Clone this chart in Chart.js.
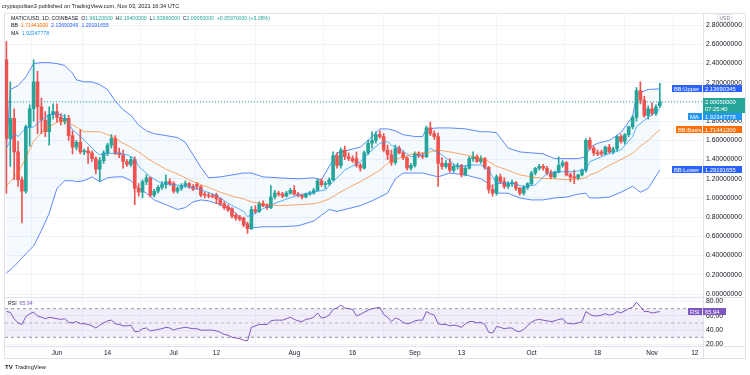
<!DOCTYPE html>
<html>
<head>
<meta charset="utf-8">
<title>MATIC/USD 1D</title>
<script src="https://cdn.jsdelivr.net/npm/chart.js@4.4.1/dist/chart.umd.min.js"></script>
<style>
  html, body { margin: 0; padding: 0; background: #ffffff; }
  #chartBox { position: relative; width: 750px; height: 375px; }
</style>
</head>
<body>
<div id="chartBox"><canvas id="maticChart" width="750" height="375"></canvas></div>
<script>
// ===== DATA (day 0 = May 19, 2021) =====
const opens = [2.44,1.62,1.83,1.48,1.19,1.07,1.74,1.93,2.21,1.95,
  1.81,1.69,1.87,1.90,1.84,1.80,1.83,1.65,1.53,1.58,
  1.48,1.49,1.47,1.41,1.30,1.39,1.47,1.55,1.62,1.47,
  1.45,1.38,1.35,1.40,1.10,1.06,1.17,1.21,1.03,1.07,
  1.11,1.14,1.17,1.15,1.07,1.10,1.13,1.15,1.12,1.14,
  1.12,1.04,1.03,1.025,1.03,0.99,0.94,0.91,0.89,0.82,
  0.80,0.79,0.73,0.68,0.88,0.86,0.94,0.92,0.90,1.01,
  1.05,1.04,1.02,1.05,1.08,1.04,1.03,1.01,1.04,1.05,
  1.08,1.18,1.14,1.15,1.19,1.44,1.34,1.50,1.43,1.41,
  1.41,1.34,1.31,1.47,1.57,1.60,1.66,1.64,1.50,1.45,
  1.37,1.52,1.47,1.42,1.31,1.34,1.46,1.44,1.43,1.73,
  1.67,1.64,1.36,1.33,1.36,1.29,1.33,1.34,1.24,1.31,
  1.41,1.43,1.38,1.41,1.32,1.09,1.05,1.22,1.17,1.12,
  1.15,1.16,1.10,1.05,1.11,1.15,1.26,1.31,1.33,1.31,
  1.26,1.22,1.27,1.34,1.37,1.24,1.22,1.21,1.24,1.29,
  1.60,1.52,1.47,1.48,1.46,1.53,1.48,1.51,1.64,1.59,
  1.66,1.74,1.84,2.12,2.02,1.86,1.93,1.88,1.9612];
const highs = [2.63,2.21,1.93,1.59,1.22,1.76,1.97,2.44,2.32,2.04,
  1.90,1.95,1.98,1.98,1.88,1.87,1.86,1.70,1.60,1.71,
  1.51,1.53,1.49,1.43,1.42,1.49,1.57,1.66,1.65,1.52,
  1.50,1.40,1.43,1.43,1.15,1.19,1.24,1.22,1.09,1.13,
  1.17,1.24,1.20,1.17,1.12,1.15,1.18,1.16,1.14,1.16,
  1.13,1.06,1.05,1.04,1.05,1.00,0.96,0.93,0.90,0.84,
  0.82,0.80,0.75,0.91,0.92,0.96,0.97,0.94,1.13,1.08,
  1.07,1.06,1.07,1.10,1.13,1.06,1.04,1.05,1.07,1.10,
  1.20,1.20,1.17,1.21,1.48,1.47,1.52,1.54,1.47,1.44,
  1.48,1.36,1.49,1.60,1.69,1.69,1.70,1.67,1.55,1.50,
  1.55,1.54,1.49,1.43,1.36,1.48,1.48,1.47,1.75,1.79,
  1.70,1.68,1.42,1.39,1.41,1.35,1.36,1.35,1.33,1.43,
  1.48,1.45,1.44,1.42,1.33,1.14,1.24,1.25,1.21,1.17,
  1.19,1.17,1.11,1.13,1.16,1.28,1.32,1.35,1.35,1.33,
  1.29,1.28,1.43,1.39,1.38,1.26,1.29,1.25,1.30,1.62,
  1.63,1.54,1.50,1.50,1.54,1.56,1.53,1.65,1.66,1.67,
  1.75,1.86,2.15,2.21,2.06,1.96,1.99,1.97,2.194];
const lows = [1.05,1.33,1.19,1.12,0.74,1.05,1.54,1.80,1.67,1.67,
  1.64,1.55,1.82,1.79,1.76,1.77,1.60,1.46,1.50,1.46,
  1.45,1.36,1.38,1.25,1.17,1.36,1.44,1.52,1.45,1.42,
  1.31,1.33,1.33,0.93,1.02,1.00,1.14,1.01,1.01,1.05,
  1.09,1.10,1.13,1.05,1.05,1.08,1.11,1.10,1.08,1.09,
  1.01,1.00,1.00,1.00,0.94,0.92,0.88,0.86,0.79,0.77,
  0.76,0.70,0.63,0.67,0.84,0.85,0.91,0.88,0.89,0.99,
  1.02,1.00,1.01,1.04,1.03,1.01,0.99,1.00,1.03,1.04,
  1.07,1.12,1.10,1.13,1.18,1.31,1.31,1.40,1.39,1.37,
  1.32,1.28,1.30,1.45,1.52,1.57,1.62,1.48,1.40,1.34,
  1.35,1.46,1.40,1.29,1.29,1.32,1.42,1.41,1.42,1.65,
  1.61,1.12,1.30,1.31,1.27,1.27,1.30,1.22,1.23,1.30,
  1.38,1.37,1.36,1.30,1.05,1.02,1.03,1.15,1.10,1.10,
  1.12,1.08,1.03,1.03,1.09,1.13,1.24,1.29,1.29,1.24,
  1.20,1.21,1.26,1.32,1.23,1.17,1.15,1.19,1.23,1.27,
  1.50,1.44,1.44,1.44,1.45,1.47,1.46,1.49,1.57,1.56,
  1.64,1.72,1.80,1.98,1.84,1.82,1.86,1.86,1.9396];
const closes = [1.62,1.83,1.48,1.19,1.07,1.74,1.93,2.21,1.95,1.81,
  1.69,1.87,1.90,1.84,1.80,1.83,1.65,1.53,1.58,1.48,
  1.49,1.47,1.41,1.30,1.39,1.47,1.55,1.62,1.47,1.45,
  1.38,1.35,1.40,1.10,1.06,1.17,1.21,1.03,1.07,1.11,
  1.14,1.17,1.15,1.07,1.10,1.13,1.15,1.12,1.09,1.12,
  1.03,1.03,1.02,1.015,0.99,0.94,0.90,0.875,0.81,0.79,
  0.78,0.72,0.68,0.88,0.86,0.94,0.92,0.90,1.01,1.05,
  1.04,1.02,1.05,1.08,1.04,1.03,1.01,1.04,1.05,1.08,
  1.18,1.14,1.15,1.19,1.44,1.34,1.50,1.43,1.41,1.39,
  1.34,1.31,1.47,1.57,1.60,1.66,1.64,1.50,1.45,1.37,
  1.52,1.47,1.42,1.31,1.34,1.46,1.44,1.43,1.73,1.67,
  1.64,1.36,1.33,1.36,1.29,1.33,1.34,1.24,1.31,1.41,
  1.43,1.38,1.41,1.32,1.09,1.05,1.22,1.17,1.12,1.15,
  1.16,1.10,1.05,1.11,1.15,1.26,1.31,1.33,1.31,1.26,
  1.22,1.27,1.34,1.37,1.24,1.22,1.21,1.24,1.29,1.60,
  1.52,1.47,1.46,1.46,1.53,1.48,1.51,1.64,1.59,1.66,
  1.74,1.84,2.12,2.02,1.86,1.93,1.88,1.95,2.0005];

// Bollinger bands, read at these days
const bbDays = [0,1,3,5,7,9,11,13,15,17,18,20,22,24,26,28,30,32,34,36,
  38,41,44,46,48,50,52,55,58,61,63,66,70,75,79,81,83,85,88,91,
  94,96,98,100,102,105,107,108,111,114,118,122,124,126,129,132,135,138,141,144,
  147,149,150,152,155,158,161,162,163,165,168];
const bbUpper = [1.52,2.13,2.17,2.26,2.40,2.41,2.41,2.40,2.38,2.30,
  2.23,2.21,2.21,2.18,2.13,2.01,1.92,1.86,1.76,1.70,
  1.67,1.65,1.63,1.58,1.45,1.32,1.21,1.22,1.24,1.26,
  1.26,1.22,1.21,1.20,1.21,1.19,1.33,1.47,1.50,1.53,
  1.64,1.72,1.72,1.70,1.66,1.64,1.64,1.72,1.73,1.73,
  1.72,1.69,1.69,1.68,1.52,1.48,1.47,1.46,1.41,1.41,
  1.41,1.43,1.53,1.57,1.60,1.68,1.85,2.07,2.10,2.13,
  2.137];
const bbBasis = [1.125,1.17,1.26,1.42,1.59,1.68,1.74,1.79,1.80,1.76,
  1.74,1.69,1.69,1.69,1.66,1.62,1.57,1.53,1.48,1.42,
  1.37,1.30,1.25,1.21,1.17,1.14,1.11,1.06,1.02,0.99,
  0.96,0.94,0.92,0.93,0.94,0.96,0.99,1.04,1.11,1.17,
  1.24,1.29,1.36,1.40,1.43,1.465,1.47,1.47,1.50,1.48,
  1.45,1.41,1.38,1.33,1.29,1.24,1.22,1.205,1.20,1.19,
  1.20,1.21,1.24,1.27,1.34,1.40,1.465,1.50,1.54,1.60,
  1.714];
const bbLower = [0.22,0.25,0.33,0.42,0.50,0.66,0.84,1.10,1.18,1.18,
  1.17,1.18,1.22,1.17,1.21,1.22,1.22,1.18,1.10,1.05,
  0.98,0.93,0.88,0.90,0.96,0.98,0.97,0.93,0.88,0.76,
  0.69,0.70,0.70,0.71,0.76,0.82,0.88,0.86,0.89,0.92,
  0.97,1.01,1.05,1.20,1.26,1.26,1.26,1.25,1.22,1.26,
  1.24,1.20,1.15,1.05,1.05,1.00,0.98,0.98,1.00,1.01,
  1.04,1.05,1.00,1.00,1.01,1.06,1.12,1.09,1.06,1.10,
  1.29];

// moving average, read at these days
const maDays = [0,2,3,5,7,9,11,13,15,17,20,23,24,26,29,31,33,34,37,40,
  44,49,51,54,57,61,62,64,66,70,75,80,82,84,87,91,94,96,98,99,
  101,104,107,109,112,116,119,122,124,126,130,133,136,139,142,146,149,150,154,158,
  161,162,165,168];
const maVals = [1.52,1.67,1.64,1.73,1.74,1.81,1.865,1.88,1.85,1.71,
  1.605,1.48,1.45,1.465,1.465,1.45,1.41,1.33,1.22,1.15,
  1.135,1.10,1.07,1.03,0.944,0.86,0.806,0.84,0.89,0.96,
  1.03,1.07,1.083,1.17,1.29,1.378,1.50,1.57,1.587,1.55,
  1.517,1.43,1.448,1.517,1.448,1.326,1.344,1.344,1.29,1.153,
  1.153,1.118,1.135,1.257,1.274,1.274,1.30,1.378,1.448,1.50,
  1.639,1.743,1.84,1.923];

// RSI, one value per day
const rsiVals = [66,65,56,50,48,59,63,65,60,58,
  56,58,57,56,55,56,51,50,52,49,
  49,48,46,43,47,50,53,54,49,48,
  46,46,47,38,38,42,43,39,40,41,
  42,44,43,40,42,43,44,43,42,42,
  40,40,40,40,39,37,34,33,30,29,
  28,26,25,44,46,48,48,48,53,54,
  54,54,56,58,55,53,52,55,56,58,
  64,57,58,61,69,71,75,71,70,69,
  60,62,65,68,70,71,72,62,58,52,
  57,55,51,49,50,53,54,54,66,63,
  61,49,48,48,46,47,46,44,49,52,
  52,50,51,48,37,36,45,44,42,43,
  43,39,38,41,46,51,54,55,54,53,
  52,53,55,56,50,49,49,50,52,66,
  62,60,60,61,63,61,62,66,64,67,
  70,72,79,73,66,66,64,65,65.94];
const rsiLevels = [70, 50, 30];

// axes
const priceTicks = [0, 0.2, 0.4, 0.6, 0.8, 1.0, 1.2, 1.4, 1.6, 1.8, 2.0, 2.2, 2.4, 2.6, 2.8];
const rsiTicks = [20, 40, 60, 80];
const dateTickDays = [13, 26, 43, 54, 74, 89, 105, 117, 135, 152, 166, 177];
const dateTickLabels = ['Jun', '14', 'Jul', '12', 'Aug', '16', 'Sep', '13', 'Oct', '18', 'Nov', '12'];

// last values shown on the legend and the price scale
const lastUpper = 2.13690345, lastBasis = 1.71441000, lastLower = 1.29191655;
const lastMA = 1.92347778, lastRSI = 65.94;
const lastChange = 0.05970000, lastChangePct = 3.08;
const countdown = '07:25:40';

// ===== STYLE =====
const upColor = '#26a69a', downColor = '#ef5350';
const bbBlue = '#2962ff', bbOrange = '#ff6d00', maBlue = '#2196f3', rsiPurple = '#7e57c2';
const textColor = '#131722', gridColor = '#f0f3fa', frameColor = '#e0e3eb';
const FONT = '"Liberation Sans", Arial, sans-serif';
Chart.defaults.font.family = FONT;

const xMin = -0.36, xMax = 179.1;

const dayIdx = closes.map((_, i) => i);
const candleColors = dayIdx.map(i => closes[i] >= opens[i] ? upColor : downColor);
const pts = (xs, ys) => xs.map((x, i) => ({ x: x, y: ys[i] }));
const lastClose = closes[closes.length - 1];

function runText(c, x, y, parts) {
  parts.forEach(p => {
    c.fillStyle = p[1];
    c.fillText(p[0], x, y);
    x += c.measureText(p[0]).width;
  });
}

function tag(c, x, yc, w, h, bg, text) {
  c.fillStyle = bg;
  c.fillRect(x, Math.round(yc - h / 2), w, h);
  c.fillStyle = '#ffffff';
  c.textAlign = 'left';
  c.textBaseline = 'middle';
  c.fillText(text, x + 2, Math.round(yc - h / 2) + h / 2 + 0.5);
}

// frame, legend, price tags
const overlay = {
  id: 'overlay',
  beforeDraw(chart) {
    const c = chart.ctx;
    c.save();
    c.fillStyle = '#ffffff';
    c.fillRect(0, 0, chart.width, chart.height);
    c.restore();
  },
  afterDraw(chart) {
    const c = chart.ctx, area = chart.chartArea;
    const py = chart.scales.y, ry = chart.scales.rsi;
    c.save();

    // frame and pane separators
    c.strokeStyle = frameColor;
    c.lineWidth = 1;
    c.strokeRect(4.5, 13.5, 741, 345);
    const sepY = Math.round(ry.top) + 0.5, axY = Math.round(area.bottom) + 0.5, axX = Math.round(area.right) + 0.5;
    c.beginPath();
    c.moveTo(4.5, sepY); c.lineTo(745.5, sepY);
    c.moveTo(4.5, axY); c.lineTo(745.5, axY);
    c.moveTo(axX, 13.5); c.lineTo(axX, 358.5);
    c.stroke();

    // title and legend
    c.textBaseline = 'middle';
    c.textAlign = 'left';
    c.font = '5.6px ' + FONT;
    c.fillStyle = textColor;
    c.fillText('cryptopolitan3 published on TradingView.com, Nov 03, 2021 16:34 UTC', 2, 6.5);
    c.font = '5.2px ' + FONT;
    runText(c, 11, 18.5, [
      ['MATIC/USD, 1D, COINBASE  O', textColor], [opens[168].toFixed(8), upColor],
      ['  H', textColor], [highs[168].toFixed(8), upColor],
      ['  L', textColor], [lows[168].toFixed(8), upColor],
      ['  C', textColor], [lastClose.toFixed(8), upColor],
      ['  +' + lastChange.toFixed(8) + ' (+' + lastChangePct.toFixed(2) + '%)', upColor]
    ]);
    runText(c, 11, 26, [
      ['BB  ', textColor], [lastBasis.toFixed(8), bbOrange],
      ['  ' + lastUpper.toFixed(8), bbBlue], ['  ' + lastLower.toFixed(8), bbBlue]
    ]);
    runText(c, 11, 33.5, [['MA  ', textColor], [lastMA.toFixed(8), maBlue]]);
    runText(c, 8, Math.round(ry.top) + 7, [['RSI  ', textColor], [lastRSI.toFixed(2), rsiPurple]]);

    // USD unit label
    c.strokeStyle = frameColor;
    c.strokeRect(717.5, 14.5, 14, 7);
    c.fillStyle = '#787b86';
    c.font = '5px ' + FONT;
    c.fillText('USD', 719.5, 18.5);

    // price scale tags
    c.font = '5.8px ' + FONT;
    const tx = Math.round(area.right);
    const upY = py.getPixelForValue(lastUpper);
    tag(c, tx - 31, upY, 30, 7, bbBlue, 'BB:Upper');
    tag(c, tx, upY, 39, 7, bbBlue, lastUpper.toFixed(8));

    const cy = py.getPixelForValue(lastClose);
    c.fillStyle = upColor;
    c.fillRect(tx, Math.round(cy) - 4, 42, 15);
    c.fillStyle = '#ffffff';
    c.fillText(lastClose.toFixed(8), tx + 2, Math.round(cy) + 0.5);
    c.fillText(countdown, tx + 2, Math.round(cy) + 7.5);

    const maY = Math.max(py.getPixelForValue(lastMA), Math.round(cy) + 11 + 3.5);
    tag(c, tx - 15, maY, 14, 7, maBlue, 'MA');
    tag(c, tx, maY, 39, 7, maBlue, lastMA.toFixed(8));

    const baY = py.getPixelForValue(lastBasis);
    tag(c, tx - 27, baY, 26, 7, bbOrange, 'BB:Basis');
    tag(c, tx, baY, 39, 7, bbOrange, lastBasis.toFixed(8));

    const loY = py.getPixelForValue(lastLower);
    tag(c, tx - 31, loY, 30, 7, bbBlue, 'BB:Lower');
    tag(c, tx, loY, 39, 7, bbBlue, lastLower.toFixed(8));

    const rY = ry.getPixelForValue(lastRSI);
    tag(c, tx - 15, rY, 14, 7, rsiPurple, 'RSI');
    tag(c, tx, rY, 23, 7, rsiPurple, lastRSI.toFixed(2));

    // TradingView mark
    c.fillStyle = textColor;
    c.font = 'bold 6px ' + FONT;
    c.fillText('TV', 5, 367);
    c.font = '5.6px ' + FONT;
    c.fillText('TradingView', 15, 367);
    c.restore();
  }
};

const ctx = document.getElementById('maticChart').getContext('2d');

const chart = new Chart(ctx, {
  type: 'bar',
  data: {
    datasets: [
      { type: 'line', label: 'BB Upper', data: pts(bbDays, bbUpper), borderColor: 'rgba(41,98,255,0.75)', order: 5 },
      { type: 'line', label: 'BB Lower', data: pts(bbDays, bbLower), borderColor: 'rgba(41,98,255,0.75)', order: 5,
        fill: { target: 0 }, backgroundColor: 'rgba(33,150,243,0.05)' },
      { label: 'Wicks', data: dayIdx.map(i => ({ x: i, y: [lows[i], highs[i]] })),
        backgroundColor: candleColors, barThickness: 1, grouped: false, order: 4 },
      { label: 'Bodies', data: dayIdx.map(i => ({ x: i, y: [opens[i], closes[i]] })),
        backgroundColor: candleColors, barThickness: 3, minBarLength: 1, grouped: false, order: 3 },
      { type: 'line', label: 'BB Basis', data: pts(bbDays, bbBasis), borderColor: 'rgba(255,109,0,0.6)', order: 2 },
      { type: 'line', label: 'MA', data: pts(maDays, maVals), borderColor: 'rgba(33,150,243,0.75)', order: 2 },
      { type: 'line', label: 'Last', data: [{ x: xMin, y: lastClose }, { x: xMax, y: lastClose }],
        borderColor: upColor, borderDash: [1, 2], order: 1 },
      { type: 'line', label: 'RSI 70', yAxisID: 'rsi', data: [{ x: xMin, y: rsiLevels[0] }, { x: xMax, y: rsiLevels[0] }],
        borderColor: '#9598a1', borderDash: [3, 3], fill: { target: 9 }, backgroundColor: 'rgba(126,87,194,0.1)', order: 2 },
      { type: 'line', label: 'RSI 50', yAxisID: 'rsi', data: [{ x: xMin, y: rsiLevels[1] }, { x: xMax, y: rsiLevels[1] }],
        borderColor: 'rgba(149,152,161,0.6)', borderDash: [3, 3], order: 2 },
      { type: 'line', label: 'RSI 30', yAxisID: 'rsi', data: [{ x: xMin, y: rsiLevels[2] }, { x: xMax, y: rsiLevels[2] }],
        borderColor: '#9598a1', borderDash: [3, 3], order: 2 },
      { type: 'line', label: 'RSI', yAxisID: 'rsi', data: pts(dayIdx, rsiVals), borderColor: rsiPurple, order: 0 }
    ]
  },
  options: {
    responsive: false,
    animation: false,
    devicePixelRatio: 1,
    layout: { padding: { left: 5, top: 15, right: 0, bottom: 0 } },
    elements: {
      point: { radius: 0 },
      line: { borderWidth: 1, tension: 0 },
      bar: { borderWidth: 0 }
    },
    plugins: { legend: { display: false }, tooltip: { enabled: false } },
    scales: {
      x: {
        type: 'linear', min: xMin, max: xMax, offset: false,
        afterBuildTicks: s => { s.ticks = dateTickDays.map(v => ({ value: v })); },
        afterFit: s => { s.height = 29; },
        ticks: { callback: (v, i) => dateTickLabels[i], autoSkip: false, maxRotation: 0,
                 color: textColor, font: { size: 6.5 }, padding: 3 },
        grid: { color: gridColor, drawTicks: false },
        border: { display: false }
      },
      y: {
        type: 'linear', position: 'right', stack: 'panes', stackWeight: 281.5,
        min: -0.026, max: 2.906,
        afterBuildTicks: s => { s.ticks = priceTicks.map(v => ({ value: v })); },
        afterFit: s => { s.width = 47; },
        ticks: { callback: v => v.toFixed(8), autoSkip: false, color: textColor, font: { size: 6.8 }, padding: 3 },
        grid: { color: gridColor, drawTicks: false },
        border: { display: false }
      },
      rsi: {
        type: 'linear', position: 'right', stack: 'panes', stackWeight: 49.5,
        min: 17.83, max: 87.06,
        afterBuildTicks: s => { s.ticks = rsiTicks.map(v => ({ value: v })); },
        afterFit: s => { s.width = 47; },
        ticks: { callback: v => v.toFixed(2), autoSkip: false, color: textColor, font: { size: 6.8 }, padding: 3 },
        grid: { color: gridColor, drawTicks: false },
        border: { display: false }
      }
    }
  },
  plugins: [overlay]
});
</script>
</body>
</html>
